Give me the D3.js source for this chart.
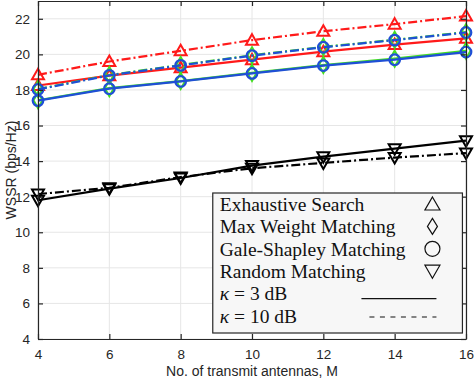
<!DOCTYPE html>
<html>
<head>
<meta charset="utf-8">
<script src="https://cdn.jsdelivr.net/npm/d3@7"></script>
<style>
  body { margin: 0; background: #fff; }
  .tick text { font-family: "Liberation Sans", Arial, sans-serif; font-size: 13.5px; fill: #262626; }
  .axisText { font-family: "Liberation Sans", Arial, sans-serif; font-size: 14px; fill: #262626; }
  .legText { font-family: "Liberation Serif", "DejaVu Serif", serif; font-size: 19.5px; fill: #111; }
</style>
</head>
<body>
<div id="svg-area"></div>
<script>
// data
var antennas = [4, 6, 8, 10, 12, 14, 16];
var es3 = [18.25, 18.8, 19.25, 19.7, 20.15, 20.55, 20.9];
var es10 = [18.85, 19.6, 20.2, 20.8, 21.3, 21.7, 22.15];
var mwm3 = [17.42, 18.1, 18.5, 18.96, 19.4, 19.76, 20.2];
var mwm10 = [18.05, 18.84, 19.4, 19.95, 20.42, 20.82, 21.25];
var gs3 = [17.4, 18.07, 18.48, 18.93, 19.37, 19.7, 20.13];
var gs10 = [18.03, 18.82, 19.38, 19.93, 20.4, 20.8, 21.23];
var rnd3 = [11.8, 12.45, 13.05, 13.75, 14.25, 14.7, 15.15];
var rnd10 = [12.15, 12.5, 13.1, 13.6, 13.9, 14.2, 14.45];
var xTicks = [4, 6, 8, 10, 12, 14, 16];
var yTicks = [4, 6, 8, 10, 12, 14, 16, 18, 20, 22];
var legendNames = ["Exhaustive Search", "Max Weight Matching", "Gale-Shapley Matching", "Random Matching"];

var svgWidth = 474;
var svgHeight = 380;
var margin = { top: 1, right: 8, bottom: 41, left: 38 };
var width = svgWidth - margin.left - margin.right;
var height = svgHeight - margin.top - margin.bottom;

var svg = d3.select("#svg-area")
  .append("svg")
  .attr("width", svgWidth)
  .attr("height", svgHeight);

var chartGroup = svg.append("g")
  .attr("transform", `translate(${margin.left}, ${margin.top})`);

var xScale = d3.scaleLinear().domain([4, 16]).range([0, width]);
var yScale = d3.scaleLinear().domain([4, 23]).range([height, 0]);

// grid
chartGroup.append("g").selectAll("line.gx").data(xTicks).enter().append("line")
  .attr("x1", d => xScale(d)).attr("x2", d => xScale(d))
  .attr("y1", 0).attr("y2", height)
  .attr("stroke", "#e6e6e6").attr("stroke-width", 1);
chartGroup.append("g").selectAll("line.gy").data(yTicks).enter().append("line")
  .attr("x1", 0).attr("x2", width)
  .attr("y1", d => yScale(d)).attr("y2", d => yScale(d))
  .attr("stroke", "#e6e6e6").attr("stroke-width", 1);

// series
var series = [
  { v: es10, color: "#ff1a1a", dash: "9,3,2,3", mark: "up" },
  { v: es3, color: "#ff1a1a", dash: null, mark: "up" },
  { v: mwm3, color: "#44dd22", dash: null, mark: "diamond" },
  { v: mwm10, color: "#44dd22", dash: "9,3,2,3", mark: "diamond" },
  { v: gs10, color: "#1f4fd6", dash: "9,3,2,3", mark: "circle" },
  { v: gs3, color: "#1f4fd6", dash: null, mark: "circle" },
  { v: rnd10, color: "#000", dash: "9,3,2,3", mark: "down" },
  { v: rnd3, color: "#000", dash: null, mark: "down" }
];

var line = d3.line().x((d, i) => xScale(antennas[i])).y(d => yScale(d));

function markerPath(type) {
  if (type === "up") return "M0,-6L6,4.5L-6,4.5Z";
  if (type === "down") return "M0,6L6,-4.5L-6,-4.5Z";
  if (type === "diamond") return "M0,-8L4.5,0L0,8L-4.5,0Z";
  return null;
}

series.forEach(function(s) {
  var g = chartGroup.append("g");
  g.append("path")
    .datum(s.v)
    .attr("d", line)
    .attr("fill", "none")
    .attr("stroke", s.color)
    .attr("stroke-width", 2.2)
    .attr("stroke-dasharray", s.dash);
  var m = g.selectAll(".m").data(s.v).enter();
  if (s.mark === "circle") {
    m.append("circle")
      .attr("cx", (d, i) => xScale(antennas[i]))
      .attr("cy", d => yScale(d))
      .attr("r", 5.3)
      .attr("fill", "none").attr("stroke", s.color).attr("stroke-width", 2.2);
  } else {
    m.append("path")
      .attr("d", markerPath(s.mark))
      .attr("transform", (d, i) => `translate(${xScale(antennas[i])},${yScale(d)})`)
      .attr("fill", "none").attr("stroke", s.color).attr("stroke-width", 2);
  }
});

// axes
var bottomAxis = d3.axisBottom(xScale).tickValues(xTicks).tickSizeInner(-5).tickSizeOuter(0).tickPadding(10);
var leftAxis = d3.axisLeft(yScale).tickValues(yTicks).tickSizeInner(-5).tickSizeOuter(0).tickPadding(8);
var topAxis = d3.axisTop(xScale).tickValues(xTicks).tickSizeInner(-5).tickSizeOuter(0).tickFormat("");
var rightAxis = d3.axisRight(yScale).tickValues(yTicks).tickSizeInner(-5).tickSizeOuter(0).tickFormat("");

chartGroup.append("g").attr("transform", `translate(0, ${height})`).call(bottomAxis);
chartGroup.append("g").call(leftAxis);
chartGroup.append("g").call(topAxis);
chartGroup.append("g").attr("transform", `translate(${width}, 0)`).call(rightAxis);
chartGroup.selectAll(".domain, .tick line").attr("stroke", "#262626").attr("stroke-width", 1.2);

// legend
var legX = xScale(8.9), legY = 193;
var legW = xScale(15.9) - legX, legH = 140;
var leg = chartGroup.append("g").attr("transform", `translate(${legX}, ${legY - margin.top})`);
leg.append("rect").attr("width", legW).attr("height", legH)
  .attr("fill", "#f7f7f7").attr("stroke", "#262626").attr("stroke-width", 1.2);

var rowY = d3.scaleLinear().domain([0, 5]).range([11, 123]);
var legMarks = ["up", "diamond", "circle", "down"];
var symX = legW - 30;
legendNames.forEach(function(name, i) {
  leg.append("text").attr("class", "legText")
    .attr("x", 7).attr("y", rowY(i)).attr("dy", "0.35em").text(name);
  if (legMarks[i] === "circle") {
    leg.append("circle").attr("cx", symX).attr("cy", rowY(i)).attr("r", 7.5)
      .attr("fill", "none").attr("stroke", "#111").attr("stroke-width", 1.2);
  } else {
    var p = legMarks[i] === "up" ? "M0,-7L7.5,6L-7.5,6Z" :
            legMarks[i] === "down" ? "M0,7L7.5,-6L-7.5,-6Z" : "M0,-8L5,0L0,8L-5,0Z";
    leg.append("path").attr("d", p)
      .attr("transform", `translate(${symX},${rowY(i)})`)
      .attr("fill", "none").attr("stroke", "#111").attr("stroke-width", 1.2);
  }
});

var kappa = ["3", "10"];
kappa.forEach(function(k, j) {
  var t = leg.append("text").attr("class", "legText")
    .attr("x", 7).attr("y", rowY(4 + j)).attr("dy", "0.35em");
  t.append("tspan").attr("font-style", "italic").text("\u03ba");
  t.append("tspan").text(" = " + k + " dB");
  leg.append("line")
    .attr("x1", j === 0 ? symX - 71 : symX - 63).attr("x2", symX + 4)
    .attr("y1", rowY(4 + j) + (j === 0 ? 5 : 1)).attr("y2", rowY(4 + j) + (j === 0 ? 5 : 1))
    .attr("stroke", "#111").attr("stroke-width", 1.2)
    .attr("stroke-dasharray", j === 0 ? null : "5,5.5");
});

// axis labels
chartGroup.append("text")
  .attr("transform", "rotate(-90)")
  .attr("y", -margin.left + 11)
  .attr("x", -(height / 2))
  .attr("dy", "0.35em")
  .attr("text-anchor", "middle")
  .attr("class", "axisText")
  .text("WSSR (bps/Hz)");

chartGroup.append("text")
  .attr("transform", `translate(${width / 2}, ${height + 37})`)
  .attr("text-anchor", "middle")
  .attr("class", "axisText")
  .text("No. of transmit antennas, M");
</script>
</body>
</html>
